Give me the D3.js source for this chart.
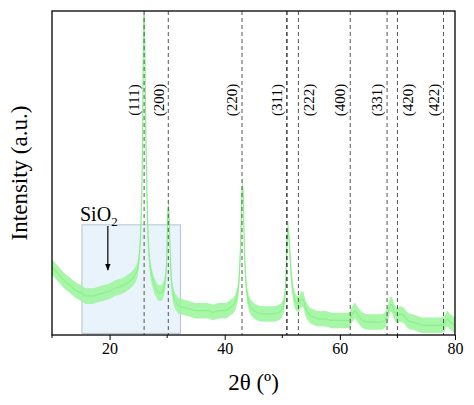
<!DOCTYPE html><html><head><meta charset="utf-8">
<script src="https://cdn.jsdelivr.net/npm/d3@7"></script>
<style>body{margin:0;background:#fff}text{font-family:"Liberation Serif","Times New Roman",serif}</style></head><body>
<svg id="c" width="474" height="405"></svg>
<script>
const twoTheta=[10,11,12,13,14,15,16,17,18,19,20,21,22,23,24,24.8,25.3,25.7,25.9,26.0,26.1,26.3,26.6,27,27.5,28,28.5,29,29.5,29.9,30.1,30.25,30.4,30.7,31.1,31.6,32,33,34,35,36,37,38,39,40,41,41.8,42.4,42.8,43.05,43.2,43.4,43.7,44.2,44.8,45.5,46.5,47.5,48.5,49.5,50.2,50.6,50.85,51.0,51.2,51.5,51.9,52.4,52.9,53.3,53.6,54,54.6,55.5,56.5,57.5,58.5,59.5,60.5,61.5,62.2,62.6,63.2,64,65,66,67,67.8,68.4,68.8,69.1,69.5,70,70.6,71.1,71.8,72.6,73.5,74.5,75.5,76.5,77.5,78.2,78.6,79.2,80];
const intensity=[21,19,17,15.5,14,13,12,12,12.5,13,13.5,14.5,15,16,17.5,20,28,55,95,100,92,62,35,22,17,14.5,13,13,15,22,36,40,33,18,12,10,9,8.5,8,7.5,7.5,7.5,7,7.5,7.5,8.5,10,15,30,46,44,28,16,10,8,7,6.5,6.5,6.5,7,9,16,30,33,29,20,13,10,9.5,11,11,8.5,6.5,5.5,5,5,4.5,4.5,4.5,4.5,6.5,7.5,6,4.5,4,4,4,4.5,7,9.5,9,7,6,6.5,6,4.5,4,3.5,3,3,3,3,3.5,5,4,3];
const ticks=[20,40,60,80], minorTicks=[10,30,50,70];
const peaks=[26.0,30.2,43.0,50.8,52.8,61.8,68.2,70.0,78.0];
const peakLabels=["(111)","(200)","(220)","(311)","(222)","(400)","(331)","(420)","(422)"];
const labelSide=[-1,-1,-1,-1,1,-1,-1,1,-1];
const box=[15.2,32.3], boxTop=34;
const spread=2.4;
const svg=d3.select("#c");
const L=52,R=455,T=11,B=335;
const x=d3.scaleLinear().domain([10,80]).range([L,R]);
const y=d3.scaleLinear().domain([0,100]).range([B,T]);
svg.append("rect").attr("x",x(box[0])).attr("y",y(boxTop)).attr("width",x(box[1])-x(box[0])).attr("height",y(0.5)-y(boxTop)).attr("fill","#e8f3fb").attr("stroke","#b5c4cc").attr("stroke-width",1);
const pts=twoTheta.map((t,i)=>[t,intensity[i]]);
svg.append("path").datum(pts).attr("fill","#9ef59e").attr("opacity",0.9)
 .attr("d",d3.area().x(d=>x(d[0])).y0(d=>y(d[1]-spread)).y1(d=>y(Math.min(100,d[1]+spread))).curve(d3.curveMonotoneX));
svg.append("path").datum(pts).attr("fill","none").attr("stroke","#8cf08e").attr("stroke-width",1.2)
 .attr("d",d3.line().x(d=>x(d[0])).y(d=>y(d[1])).curve(d3.curveMonotoneX));
peaks.forEach((p,i)=>{
 svg.append("line").attr("x1",x(p)).attr("x2",x(p)).attr("y1",T).attr("y2",B).attr("stroke",i==3?"#222":"#555").attr("stroke-width",i==3?1.3:1).attr("stroke-dasharray","4,3");
 svg.append("text").attr("transform",`translate(${x(p)+labelSide[i]*10},100) rotate(-90)`).attr("text-anchor","middle").attr("dy","0.35em").attr("font-size",15).text(peakLabels[i]);
});
svg.append("rect").attr("x",L).attr("y",T).attr("width",R-L).attr("height",B-T).attr("fill","none").attr("stroke","#000").attr("stroke-width",1.3);
const g=svg.append("g").attr("transform",`translate(0,${B})`);
g.call(d3.axisBottom(x).tickValues(ticks).tickSize(5).tickFormat(d3.format("d"))).call(s=>s.select(".domain").remove()).selectAll("text").attr("font-size",16).attr("font-family","Liberation Serif");
minorTicks.forEach(t=>svg.append("line").attr("x1",x(t)).attr("x2",x(t)).attr("y1",B).attr("y2",B+3).attr("stroke","#000"));
svg.append("text").attr("x",(L+R)/2).attr("y",390).attr("text-anchor","middle").attr("font-size",23).text("2θ (º)");
svg.append("text").attr("transform",`translate(27,${(T+B)/2}) rotate(-90)`).attr("text-anchor","middle").attr("font-size",23).text("Intensity (a.u.)");
const st=svg.append("text").attr("x",80).attr("y",221).attr("font-size",20);
st.append("tspan").text("SiO");st.append("tspan").attr("font-size",13).attr("dy",5).text("2");
svg.append("defs").append("marker").attr("id","ah").attr("viewBox","0 0 10 10").attr("refX",9).attr("refY",5).attr("markerWidth",6).attr("markerHeight",6).attr("orient","auto").append("path").attr("d","M0,1L10,5L0,9z").attr("fill","#000");
svg.append("line").attr("x1",x(19.7)).attr("x2",x(19.7)).attr("y1",226).attr("y2",270).attr("stroke","#000").attr("stroke-width",1.2).attr("marker-end","url(#ah)");
</script></body></html>
